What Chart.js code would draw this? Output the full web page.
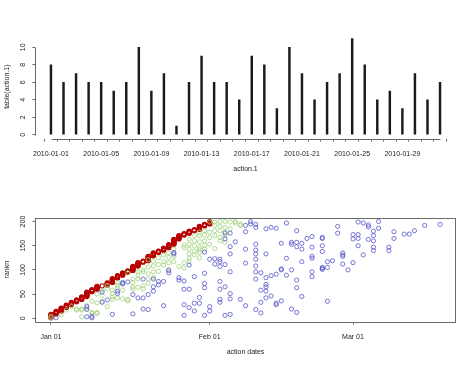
<!DOCTYPE html>
<html><head><meta charset="utf-8">
<script src="https://cdn.jsdelivr.net/npm/chart.js@4"></script>
<style>html,body{margin:0;padding:0;background:#fff;width:474px;height:366px;overflow:hidden}canvas{display:block}</style>
</head><body>
<canvas id="top" width="474" height="183"></canvas>
<canvas id="bot" width="474" height="183"></canvas>
<script>
// ---------- data: top panel ----------
const dates = ['2010-01-01','2010-01-02','2010-01-03','2010-01-04','2010-01-05','2010-01-06','2010-01-07','2010-01-08',
  '2010-01-09','2010-01-10','2010-01-11','2010-01-12','2010-01-13','2010-01-14','2010-01-15','2010-01-16',
  '2010-01-17','2010-01-18','2010-01-19','2010-01-20','2010-01-21','2010-01-22','2010-01-23','2010-01-24',
  '2010-01-25','2010-01-26','2010-01-27','2010-01-28','2010-01-29','2010-01-30','2010-01-31','2010-02-01'];
const counts = [8,6,7,6,6,5,6,10,5,7,1,6,9,6,6,4,9,8,3,10,7,4,6,7,11,8,4,5,3,7,4,6];
const topLabelIdx = [0,4,8,12,16,20,24,28];
const topYTicks = [0,2,4,6,8,10];

// ---------- data: bottom panel (day offset from Jan 01, rank) ----------
const redRanksByDay = [
  [1,2,3,4,5,6,7,8],[9,10,11,12,13,14],[15,16,17,18,19,20,21],[22,23,24,25,26,27],[28,29,30,31,32,33],
  [34,35,36,37,38],[39,40,41,42,43,44],[45,46,47,48,49,50,51,52,53,54],[55,56,57,58,59],[60,61,62,63,64,65,66],
  [67],[68,69,70,71,72,73],[74,75,76,77,78,79,80,81,82],[83,84,85,86,87,88],[89,90,91,92,93,94],
  [95,96,97,98],[99,100,101,102,103,104,105,106,107],[108,109,110,111,112,113,114,115],[116,117,118],
  [119,120,121,122,123,124,125,126,127,128],[129,130,131,132,133,134,135],[136,137,138,139],
  [140,141,142,143,144,145],[146,147,148,149,150,151,152],[153,154,155,156,157,158,159,160,161,162,163],
  [164,165,166,167,168,169,170,171],[172,173,174,175],[176,177,178,179,180],[181,182,183],
  [184,185,186,187,188,189,190],[191,192,193,194],[195,196,197,198,199,200]];
const greenPoints = [[0,1],[0,4],[2,7],[3,17],[4,24],[5,19],[5,17],[6,19],[6,17],[6,3],[7,18],[7,26],
  [8,35],[8,12],[8,10],[9,50],[9,32],[9,12],[9,10],[10,58],[10,47],[10,35],[11,68],[11,61],[11,24],
  [12,58],[12,51],[12,44],[12,39],[13,74],[13,68],[13,63],[13,42],[14,72],[14,58],[14,40],[15,94],[15,39],[15,36],
  [16,81],[16,74],[16,65],[16,61],[17,96],[17,89],[17,81],[17,64],[18,100],[18,96],[18,67],[18,61],
  [19,121],[19,106],[19,92],[19,81],[19,72],[20,118],[20,108],[20,96],[20,84],[21,125],[21,111],[21,97],
  [22,131],[22,117],[22,110],[23,135],[23,126],[23,115],[23,100],[24,143],[24,128],[24,117],[25,107],
  [26,151],[26,146],[26,115],[26,104],[27,164],[27,153],[27,143],[27,133],[27,124],[27,118],
  [28,171],[28,160],[28,150],[28,139],[28,131],[29,178],[29,171],[29,158],[29,147],[29,142],[29,136],[29,125],
  [30,181],[30,172],[30,160],[30,151],[30,143],[31,199],[31,178],[31,167],[31,153],
  [32,199],[32,192],[32,181],[32,171],[32,144],[33,200],[33,190],[33,181],[33,167],[33,160],
  [34,200],[34,188],[34,178],[34,171],[34,157],[35,199],[35,185],[36,200],[36,197],[37,195],[37,192]];
const bluePoints = [[1,1],[7,3],[7,24],[7,19],[8,4],[8,1],[10,54],[10,33],[11,38],[12,8],[13,56],[13,51],
  [14,71],[14,74],[15,75],[16,9],[16,49],[17,42],[18,19],[18,81],[18,42],[19,18],[19,49],[20,65],[20,56],[20,81],
  [21,69],[21,76],[22,26],[22,76],[23,99],[23,94],[24,136],[24,133],[25,84],[25,79],[26,60],[26,6],[26,28],[26,77],
  [27,60],[27,22],[27,110],[28,86],[28,15],[28,31],[29,31],[29,43],[30,6],[30,72],[30,63],[30,93],[30,137],
  [31,24],[31,15],[31,122],[32,123],[32,112],[33,122],[33,117],[33,107],[33,76],[33,60],[33,39],[33,33],
  [34,111],[34,6],[34,65],[34,164],[34,176],[35,176],[35,148],[35,133],[35,96],[35,51],[35,40],[35,8],
  [36,158],[37,39],[38,192],[38,179],[38,143],[38,114],[38,26],[39,200],[39,195],
  [40,194],[40,188],[40,153],[40,141],[40,133],[40,122],[40,108],[40,96],[40,81],[40,18],
  [41,94],[41,58],[41,33],[41,11],[42,185],[42,133],[42,84],[42,70],[42,65],[42,56],[42,42],
  [43,188],[43,88],[43,46],[44,186],[44,91],[44,31],[44,28],[45,155],[45,102],[45,100],[45,36],
  [46,197],[46,124],[46,89],[47,157],[47,153],[47,100],[47,19],[48,181],[48,157],[48,148],[48,79],[48,63],[48,12],
  [49,155],[49,143],[49,117],[49,45],[50,165],[51,169],[51,147],[51,128],[51,124],[51,96],[51,86],
  [53,167],[53,165],[53,150],[53,138],[53,105],[53,103],[53,101],[54,117],[54,105],[54,35],[55,119],
  [56,190],[56,176],[57,135],[57,131],[57,128],[57,112],[58,100],[59,173],[59,164],[59,115],
  [60,199],[60,173],[60,165],[60,150],[61,197],[61,131],[62,193],[62,189],[62,163],
  [63,180],[63,171],[63,160],[63,147],[63,140],[64,200],[64,186],[66,147],[66,140],[67,179],[67,165],
  [69,174],[70,174],[71,181],[73,192],[76,194]];
const botXTicks = [0,31,59];
const botXLabels = ['Jan 01','Feb 01','Mar 01'];
const botYTicks = [0,50,100,150,200];

// ---------- styling ----------
const FONT_FAMILY = "'Liberation Sans', Arial, Helvetica, sans-serif";
Chart.defaults.font = {family: FONT_FAMILY, size: 7};
Chart.defaults.color = '#222';
const AXIS_COL = '#6a6a6a';
const fixTicks = vals => axis => { axis.ticks = vals.map(v => ({value: v})); };

// R-style axis lines / box and rotated y tick labels
const rAxes = {
  id: 'rAxes',
  afterDraw(chart, args, o) {
    const ctx = chart.ctx, a = chart.chartArea, sx = chart.scales.x, sy = chart.scales.y;
    ctx.save(); ctx.strokeStyle = AXIS_COL; ctx.lineWidth = 1;
    if (o.box) {
      ctx.strokeRect(Math.round(a.left) + 0.5, Math.round(a.top) + 0.5,
        Math.round(a.right - a.left), Math.round(a.bottom - a.top));
    } else {
      ctx.beginPath();
      const y = Math.round(a.bottom) + 0.5;
      ctx.moveTo(Math.round(sx.getPixelForValue(o.x0)) + 0.5, y);
      ctx.lineTo(Math.round(sx.getPixelForValue(o.x1)) + 0.5, y);
      const x = Math.round(a.left) + 0.5;
      ctx.moveTo(x, Math.round(sy.getPixelForValue(o.y0)) + 0.5);
      ctx.lineTo(x, Math.round(sy.getPixelForValue(o.y1)) + 0.5);
      ctx.stroke();
    }
    ctx.fillStyle = '#222';
    ctx.font = '7px ' + FONT_FAMILY;
    ctx.textAlign = 'center'; ctx.textBaseline = 'middle';
    o.yTicks.forEach(v => {
      ctx.save();
      ctx.translate(o.yLabelX, sy.getPixelForValue(v));
      ctx.rotate(-Math.PI / 2);
      ctx.fillText(String(v), 0, 0);
      ctx.restore();
    });
    ctx.restore();
  }
};

const LAYOUT = {padding: {top: 34.7, right: 18.4, left: 0, bottom: 0}};
const gridOpts = {display: true, drawOnChartArea: false, drawTicks: true, tickLength: 3, color: AXIS_COL, lineWidth: 1};

// ---------- top chart ----------
new Chart(document.getElementById('top'), {
  type: 'bar',
  data: {datasets: [{
    data: counts.map((c, i) => ({x: i, y: c})),
    backgroundColor: '#1a1a1a', borderWidth: 0, barThickness: 1.8
  }]},
  plugins: [rAxes],
  options: {
    responsive: false, animation: false, events: [], layout: LAYOUT,
    plugins: {legend: {display: false}, tooltip: {enabled: false},
      rAxes: {box: false, x0: 0, x1: dates.length - 1, y0: topYTicks[0], y1: topYTicks[topYTicks.length - 1],
        yTicks: topYTicks, yLabelX: 22.8}},
    scales: {
      x: {type: 'linear', min: -1.24, max: 32.24, offset: false,
        afterBuildTicks: fixTicks(dates.map((d, i) => i)),
        afterFit(s) { s.height = 44.4; },
        grid: gridOpts, border: {display: false},
        ticks: {autoSkip: false, maxRotation: 0, minRotation: 0, padding: 8,
          callback: v => topLabelIdx.includes(v) ? dates[v] : ''},
        title: {display: true, text: 'action.1', padding: {top: 0, bottom: 9.4}}},
      y: {type: 'linear', min: -0.44, max: 11.44,
        afterBuildTicks: fixTicks(topYTicks),
        afterFit(s) { s.width = 35.4; },
        grid: gridOpts, border: {display: false},
        ticks: {display: false},
        title: {display: true, text: 'table(action.1)', padding: {top: 2.8, bottom: 0}}}
    }
  }
});

// ---------- bottom chart ----------
const toXY = arr => arr.map(p => ({x: p[0], y: p[1]}));
const redXY = [];
redRanksByDay.forEach((ranks, d) => ranks.forEach(r => redXY.push({x: d, y: r})));
const ptStyle = (col, w) => ({borderColor: col, backgroundColor: 'rgba(0,0,0,0)', pointRadius: 2.1, borderWidth: w, pointStyle: 'circle'});

new Chart(document.getElementById('bot'), {
  type: 'scatter',
  data: {datasets: [
    Object.assign({data: toXY(bluePoints)}, ptStyle('#5656cc', 0.8)),
    Object.assign({data: toXY(greenPoints)}, ptStyle('#9ed27a', 0.8)),
    Object.assign({data: redXY}, ptStyle('#b80000', 1.1))
  ]},
  plugins: [rAxes],
  options: {
    responsive: false, animation: false, events: [], layout: LAYOUT,
    plugins: {legend: {display: false}, tooltip: {enabled: false},
      rAxes: {box: true, yTicks: botYTicks, yLabelX: 22.8}},
    scales: {
      x: {type: 'linear', min: -3.04, max: 79.04,
        afterBuildTicks: fixTicks(botXTicks),
        afterFit(s) { s.height = 44.4; },
        grid: gridOpts, border: {display: false},
        ticks: {autoSkip: false, maxRotation: 0, minRotation: 0, padding: 8,
          callback: v => botXLabels[botXTicks.indexOf(v)]},
        title: {display: true, text: 'action dates', padding: {top: 0, bottom: 9.4}}},
      y: {type: 'linear', min: -6.96, max: 207.96,
        afterBuildTicks: fixTicks(botYTicks),
        afterFit(s) { s.width = 35.4; },
        grid: gridOpts, border: {display: false},
        ticks: {display: false},
        title: {display: true, text: 'rankn', padding: {top: 2.8, bottom: 0}}}
    }
  }
});
</script>
</body></html>
